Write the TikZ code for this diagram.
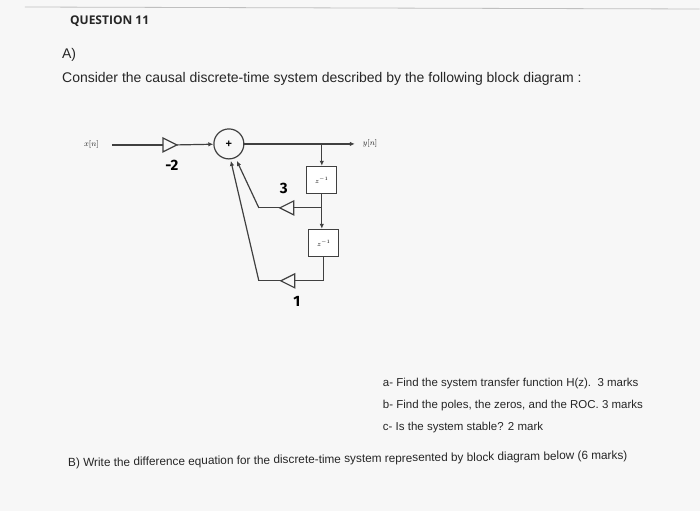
\documentclass[tikz,border=0pt]{standalone}
\usepackage{fontspec}
\setmainfont{Liberation Sans}
\newfontfamily\qfont{Open Sans}
\newfontfamily\hand{Fira Sans}
\usetikzlibrary{arrows.meta}
\begin{document}
\begin{tikzpicture}[x=1pt,y=-1pt,
  wire/.style={draw=black!75,line width=1.2pt},
  arr/.style={wire,-{Latex[length=5pt,width=4.5pt]}},
  delay/.style={draw=black!75,line width=1.2pt,fill=white,minimum width=30pt,minimum height=27pt,inner sep=0pt,font=\fontsize{7}{8}\selectfont},
  txt/.style={anchor=west,inner sep=0pt,text=black!85},
  hl/.style={font=\hand\bfseries\fontsize{15}{16}\selectfont,inner sep=0pt}]
\fill[black!3] (0,0) rectangle (700,511);
\draw[black!25,line width=0.8pt] (25,7) -- (700,9);
\node[txt,font=\qfont\bfseries\fontsize{12}{14}\selectfont] (q) at (70,21) {QUESTION 11};
\node[txt,font=\fontsize{14}{16}\selectfont] (a) at (62,55) {A)};
\node[txt,font=\fontsize{14}{16}\selectfont] (c) at (62,79) {Consider the causal discrete-time system described by the following block diagram :};
% diagram
\node[txt,font=\fontsize{8.5}{9}\selectfont] (x) at (84,145) {$x[n]$};
\coordinate (xs) at (112,145);
\draw[wire] (163,138) -- (177,145) -- (163,152) -- cycle;
\coordinate (g2in) at (163,145); \coordinate (g2out) at (177,145);
\node[hl] (l2) at (172,165) {-2};
\node[draw=black!75,line width=1.2pt,circle,minimum size=30pt,inner sep=0pt,font=\bfseries\fontsize{11}{11}\selectfont] (s) at (229,144) {+};
\coordinate (br) at (322,144);
\coordinate (yo) at (355,144);
\node[txt,font=\fontsize{8.5}{9}\selectfont] (y) at (363,144) {$y[n]$};
\node[delay] (d1) at (322,180) {$z^{-1}$};
\node[delay] (d2) at (324,243) {$z^{-1}$};
\coordinate (j) at (322,208);
\draw[wire] (294,201) -- (280,208) -- (294,215) -- cycle;
\coordinate (g3in) at (294,208); \coordinate (g3out) at (280,208);
\node[hl] (l3) at (284,189) {3};
\coordinate (k) at (259,208);
\coordinate (d2b) at (324,281);
\draw[wire] (295,274) -- (281,281) -- (295,288) -- cycle;
\coordinate (g1in) at (295,281); \coordinate (g1out) at (281,281);
\node[hl] (l1) at (297,302) {1};
\coordinate (m) at (259,281);
\draw[wire] (xs) -- (g2in);
\draw[arr] (g2out) -- (s);
\draw[arr] (s) -- (yo);
\draw[arr] (br) -- (d1.north);
\draw[arr] (d1.south) -- (d2.north -| d1.south);
\draw[wire] (j) -- (g3in);
\draw[wire] (g3out) -- (k);
\draw[arr] (k) -- (237,161);
\draw[wire] (d2.south) -- (d2b) -- (g1in);
\draw[wire] (g1out) -- (m);
\draw[arr] (m) -- (231,161);
% questions
\node[txt,font=\fontsize{11.5}{14}\selectfont] (qa) at (383,384) {a- Find the system transfer function H(z).\ \ 3 marks};
\node[txt,font=\fontsize{11.5}{14}\selectfont] (qb) at (383,406) {b- Find the poles, the zeros, and the ROC. 3 marks};
\node[txt,font=\fontsize{11.5}{14}\selectfont] (qc) at (383,428) {c- Is the system stable? 2 mark};
\node[txt,font=\fontsize{11.8}{13}\selectfont,rotate=0.8] (qB) at (68,464) {B) Write the difference equation for the discrete-time system represented by block diagram below (6 marks)};
\end{tikzpicture}
\end{document}
